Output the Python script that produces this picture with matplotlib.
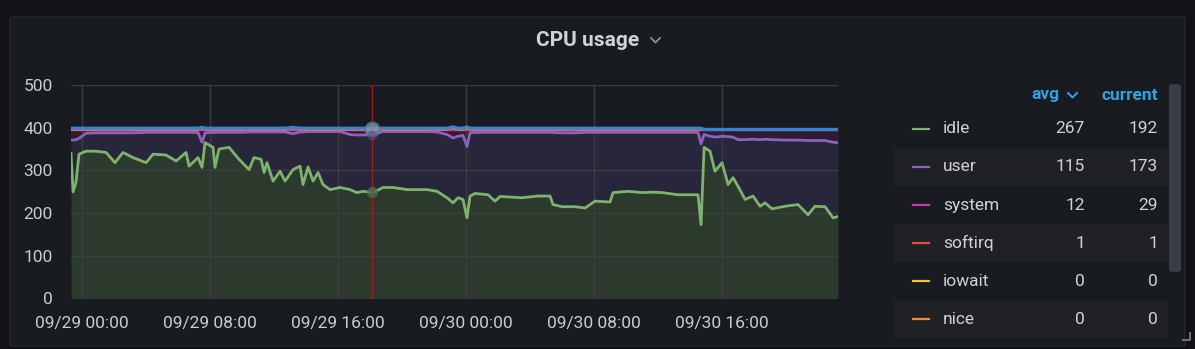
import matplotlib
matplotlib.use("Agg")
import matplotlib.pyplot as plt
import matplotlib.dates as mdates
from matplotlib.patches import FancyBboxPatch, Rectangle
from matplotlib.lines import Line2D
import numpy as np
import pandas as pd

# sample times, hours after 09/29 00:00
t_hours = [
    -0.69, -0.56, -0.38, -0.19, 0.25, 0.88, 1.5, 2.06, 2.56, 3.19,
    4.0, 4.44, 5.25, 5.88, 6.5, 6.69, 7.25, 7.5, 7.69, 8.19,
    8.31, 8.56, 9.19, 9.81, 10.44, 10.75, 11.19, 11.38, 11.56, 11.94,
    12.38, 12.69, 13.19, 13.63, 13.81, 14.13, 14.44, 14.75, 15.06, 15.5,
    16.13, 16.75, 17.19, 17.56, 18.19, 18.81, 19.44, 20.31, 21.56, 22.19,
    22.81, 23.19, 23.5, 23.81, 24.06, 24.25, 24.56, 25.38, 25.81, 26.13,
    27.5, 28.5, 29.25, 29.44, 30.0, 30.81, 31.44, 32.06, 33.0, 33.19,
    34.13, 35.0, 35.69, 36.25, 37.25, 38.5, 38.69, 38.88, 39.25, 39.56,
    40.0, 40.38, 40.69, 41.0, 41.44, 41.94, 42.38, 42.69, 43.13, 43.94,
    44.75, 45.38, 45.81, 46.44, 46.94, 47.25,
]

idle = [
    340, 250, 272, 338, 345, 345, 342, 318, 342, 330,
    318, 338, 336, 322, 342, 310, 330, 307, 365, 354,
    307, 350, 354, 326, 302, 330, 326, 295, 318, 275,
    298, 275, 302, 310, 267, 308, 275, 295, 267, 255,
    260, 255, 248, 251, 248, 260, 260, 255, 255, 251,
    236, 224, 236, 232, 189, 240, 246, 243, 228, 239,
    236, 240, 240, 220, 215, 215, 212, 228, 226, 248,
    251, 248, 249, 248, 243, 243, 173, 354, 345, 298,
    318, 267, 283, 263, 232, 240, 216, 224, 210, 216,
    220, 196, 216, 215, 189, 192,
]

user = [
    31, 121, 100, 37, 42, 43, 46, 70, 46, 58,
    71, 51, 53, 67, 47, 79, 59, 59, 23, 35,
    82, 39, 35, 63, 88, 60, 64, 95, 72, 115,
    92, 115, 84, 80, 123, 83, 116, 96, 124, 136,
    131, 129, 135, 132, 135, 131, 131, 136, 136, 139,
    148, 152, 144, 150, 167, 148, 143, 146, 161, 150,
    153, 149, 149, 169, 173, 173, 177, 161, 163, 141,
    138, 141, 140, 141, 146, 146, 189, 30, 35, 80,
    62, 112, 95, 109, 140, 133, 156, 149, 162, 155,
    151, 174, 154, 155, 177, 173,
]

system = [
    23, 23, 22, 19, 7, 6, 6, 6, 6, 6,
    5, 5, 5, 5, 5, 5, 5, 28, 6, 5,
    5, 5, 5, 5, 4, 4, 4, 4, 4, 4,
    4, 4, 8, 4, 4, 3, 3, 3, 3, 3,
    3, 10, 11, 11, 11, 3, 3, 3, 3, 4,
    10, 18, 14, 12, 38, 6, 5, 5, 5, 5,
    5, 5, 5, 5, 6, 6, 5, 5, 5, 5,
    5, 5, 5, 5, 5, 5, 32, 10, 14, 16,
    14, 15, 16, 22, 22, 21, 22, 21, 22, 23,
    23, 24, 24, 24, 28, 29,
]

softirq = [
    1, 1, 1, 1, 1, 1, 1, 1, 1, 1,
    1, 1, 1, 1, 1, 1, 1, 3, 1, 1,
    1, 1, 1, 1, 1, 1, 1, 1, 1, 1,
    1, 1, 3, 1, 1, 1, 1, 1, 1, 1,
    1, 1, 1, 1, 1, 1, 1, 1, 1, 1,
    1, 1, 1, 1, 1, 1, 1, 1, 1, 1,
    1, 1, 1, 1, 1, 1, 1, 1, 1, 1,
    1, 1, 1, 1, 1, 1, 1, 1, 1, 1,
    1, 1, 1, 1, 1, 1, 1, 1, 1, 1,
    1, 1, 1, 1, 1, 1,
]

iowait = [0] * 51 + [3, 0, 0, 3] + [0] * 41
nice = [0] * 96
irq = [4] * 77 + [1] * 19

series_names = ["idle", "user", "system", "softirq", "iowait", "nice", "irq"]
line_colors = ["#7EB26D", "#8A63C0", "#C13DAF", "#E5493F", "#F2C037", "#F08A3A", "#2F86D6"]
fill_colors = ["#2b3a2d", "#27263a", "#2f1c31", "#2f1c31", "#2f1c31", "#2f1c31", "#1c2a3a"]
line_widths = [2.0, 2.0, 1.0, 0.8, 0.8, 0.8, 2.2]
line_z = [3.0, 3.1, 3.2, 3.5, 3.4, 3.3, 3.6]
legend_avg = [267, 115, 12, 1, 0, 0]
legend_current = [192, 173, 29, 1, 0, 0]

hover_hour = 18.13

W, H = 1195, 349
BG = "#111217"
PANEL = "#181b1f"
TXT = "#d0d2d6"

plt.rcParams["font.family"] = ["Roboto", "DejaVu Sans"]

fig = plt.figure(figsize=(W / 100, H / 100), dpi=100)
fig.patch.set_facecolor(BG)


def fx(px):
    return px / W


def fy(py):
    return 1 - py / H


# panel
fig.patches.append(FancyBboxPatch((fx(10), fy(346)), fx(1175), (346 - 17) / H,
                                  boxstyle="round,pad=0,rounding_size=0.004",
                                  transform=fig.transFigure, facecolor=PANEL,
                                  edgecolor="#24272c", linewidth=1, zorder=-5))

fig.text(fx(588), fy(40), "CPU usage", ha="center", va="center",
         fontsize=15, color=TXT, fontweight="semibold")
fig.lines.append(Line2D([fx(651), fx(655.5), fx(660)], [fy(38), fy(42.5), fy(38)],
                        transform=fig.transFigure, color="#8e9096", lw=1.3))

times = pd.Timestamp("2021-09-29 00:00") + pd.to_timedelta(t_hours, unit="h")

ax = fig.add_axes([fx(71), fy(298.5), fx(838 - 71), (298.5 - 85) / H])
ax.set_facecolor(PANEL)

stack = np.cumsum(np.array([idle, user, system, softirq, iowait, nice, irq], dtype=float), axis=0)
lower = np.zeros(len(t_hours))
for i, name in enumerate(series_names):
    ax.fill_between(times, lower, stack[i], color=fill_colors[i], lw=0, zorder=1)
    lower = stack[i]
for i, name in enumerate(series_names):
    ax.plot(times, stack[i], color=line_colors[i], lw=line_widths[i], zorder=line_z[i])

hover_t = pd.Timestamp("2021-09-29 00:00") + pd.Timedelta(hours=hover_hour)
ax.axvline(hover_t, color="#a11c1c", lw=1, zorder=5)
ax.plot([hover_t], [398], "o", ms=10, color="#7d9cba", alpha=0.75, mec="#5b7894", mew=1.5, zorder=6)
ax.plot([hover_t], [384], "o", ms=7, color="#5d4c80", alpha=0.6, mew=0, zorder=6)
ax.plot([hover_t], [249], "o", ms=8, color="#4f6a4a", alpha=0.8, mew=0, zorder=6)

ax.set_xlim(times[0], times[-1])
ax.set_ylim(0, 500)
ax.set_yticks([0, 100, 200, 300, 400, 500])
ax.xaxis.set_major_locator(mdates.HourLocator(byhour=[0, 8, 16]))
ax.xaxis.set_major_formatter(mdates.DateFormatter("%m/%d %H:%M"))
ax.grid(True, color="#3b3d42", lw=1, zorder=2)
ax.set_axisbelow(False)
for s in ax.spines.values():
    s.set_visible(False)
ax.tick_params(axis="both", length=0, labelsize=12.5, colors="#c9cbd0")
ax.tick_params(axis="y", pad=13)
ax.tick_params(axis="x", pad=12.5)
for gl in ax.get_xgridlines() + ax.get_ygridlines():
    gl.set_zorder(2)

# legend table
HEAD = "#33A2E5"
fig.text(fx(1060), fy(95), "avg", ha="right", va="center", fontsize=12.5,
         color=HEAD, fontweight="bold")
fig.lines.append(Line2D([fx(1068), fx(1072.5), fx(1077)], [fy(93), fy(97.5), fy(93)],
                        transform=fig.transFigure, color=HEAD, lw=1.4))
fig.text(fx(1158), fy(95), "current", ha="right", va="center", fontsize=12.5,
         color=HEAD, fontweight="bold")

row_y0 = 110
row_h = 38
for i in range(6):
    top = row_y0 + i * row_h
    cy = top + row_h / 2
    if i % 2 == 1:
        fig.patches.append(Rectangle((fx(894), fy(top + row_h)), fx(1168 - 894), row_h / H,
                                     transform=fig.transFigure, facecolor="#1f2125",
                                     edgecolor="none", zorder=1))
    fig.lines.append(Line2D([fx(913), fx(929)], [fy(cy), fy(cy)], transform=fig.transFigure,
                            color=line_colors[i], lw=1.6))
    fig.text(fx(943), fy(cy), series_names[i], ha="left", va="center",
             fontsize=12.5, color=TXT)
    fig.text(fx(1085), fy(cy), str(legend_avg[i]), ha="right", va="center",
             fontsize=12.5, color=TXT)
    fig.text(fx(1158), fy(cy), str(legend_current[i]), ha="right", va="center",
             fontsize=12.5, color=TXT)

# scrollbar and resize handle
fig.patches.append(FancyBboxPatch((fx(1169), fy(272)), fx(12), (272 - 84) / H,
                                  boxstyle="round,pad=0,rounding_size=0.005",
                                  transform=fig.transFigure, facecolor="#3a3d44",
                                  edgecolor="none", zorder=2))
fig.lines.append(Line2D([fx(1183), fx(1190), fx(1190)], [fy(340), fy(340), fy(333)],
                        transform=fig.transFigure, color="#6e7076", lw=1.5))

fig.savefig("out.png", dpi=100, facecolor=BG)
